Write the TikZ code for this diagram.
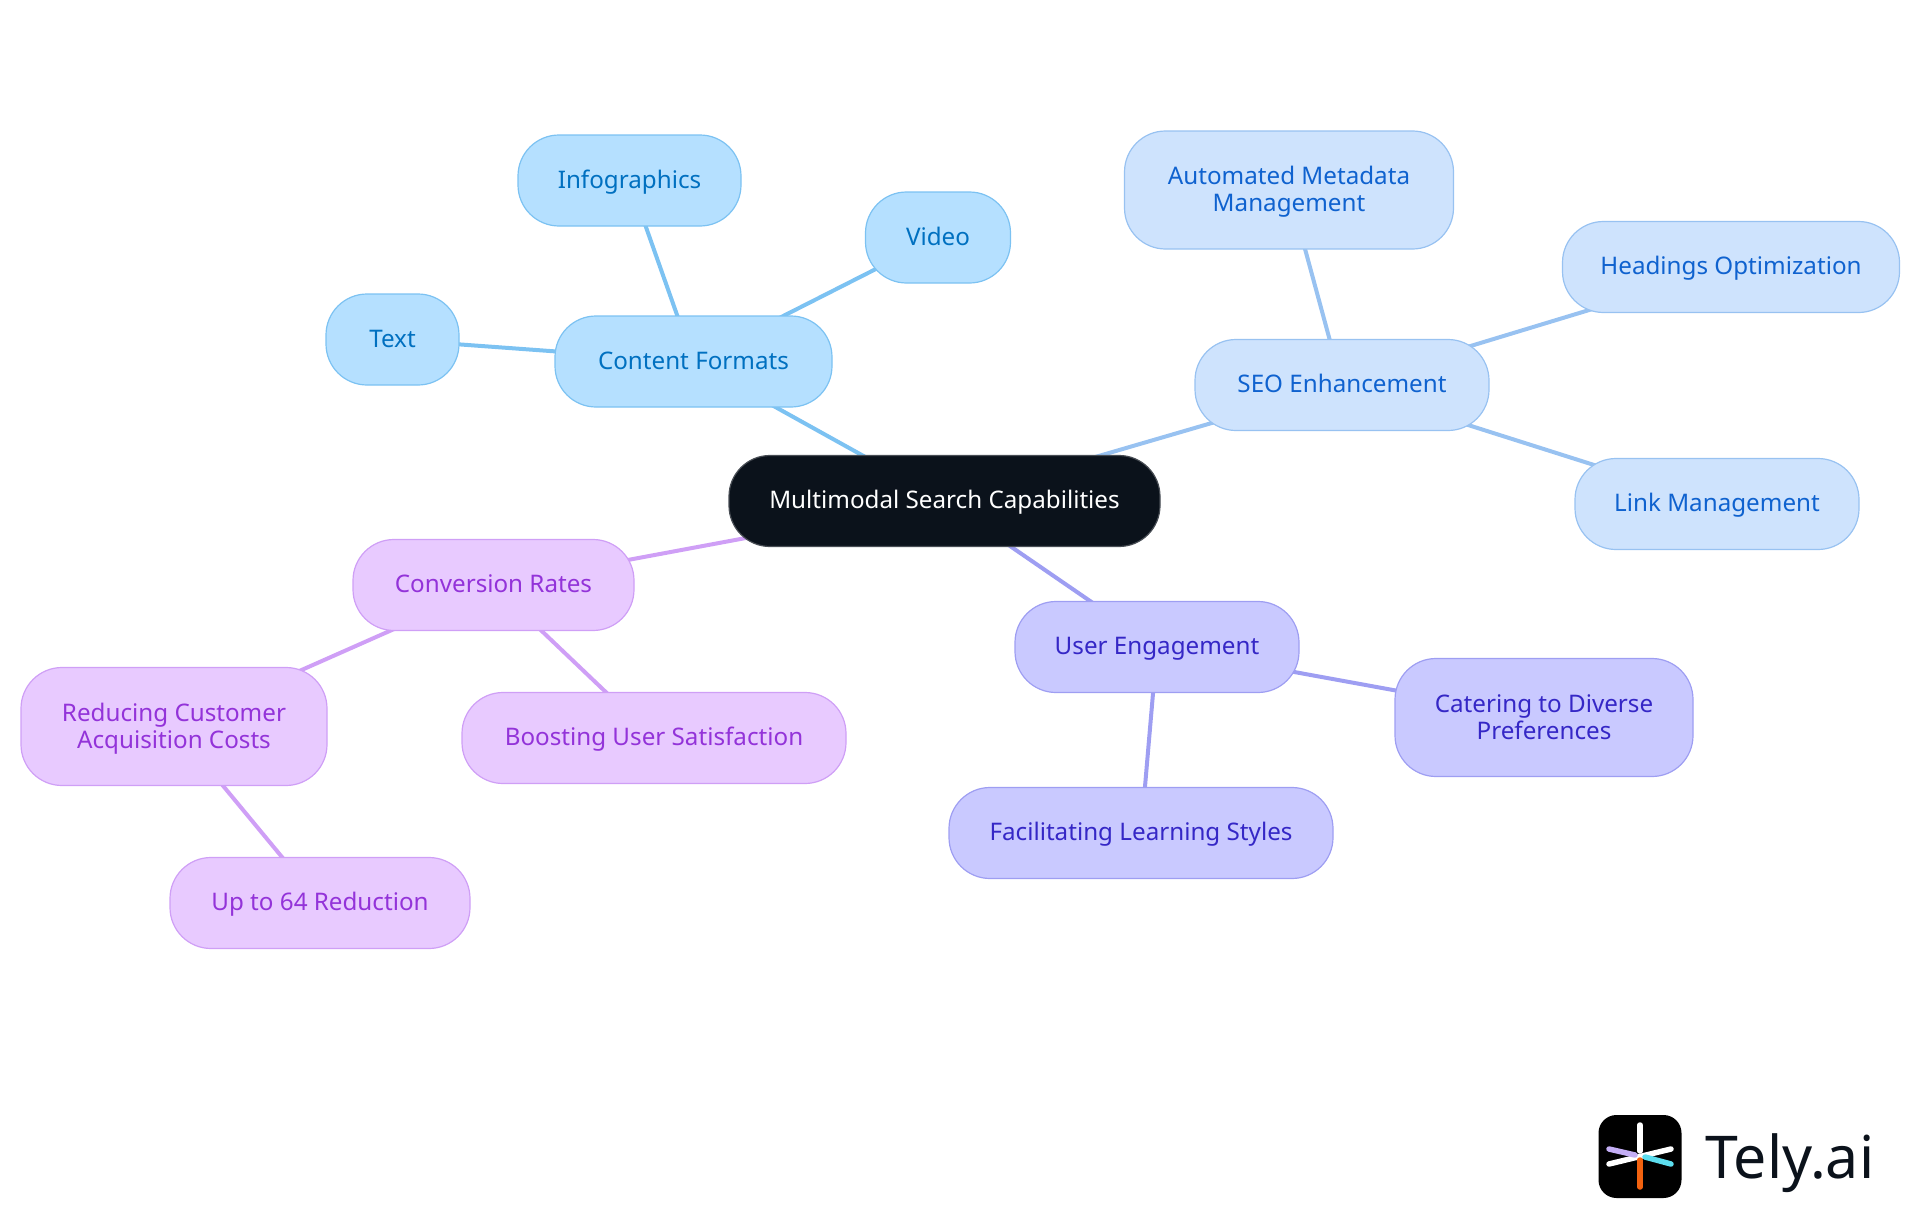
\documentclass[tikz,border=0pt]{standalone}
\usepackage{fontspec}
\setmainfont{Noto Sans}
\usetikzlibrary{backgrounds}
\definecolor{hubfill}{HTML}{0B121B}
\definecolor{fmtfill}{HTML}{B5E0FF}
\definecolor{fmtline}{HTML}{7CC2F2}
\definecolor{fmttext}{HTML}{0070C0}
\definecolor{seofill}{HTML}{CEE3FD}
\definecolor{seoline}{HTML}{98C2F1}
\definecolor{seotext}{HTML}{0F62CF}
\definecolor{usrfill}{HTML}{C9C9FF}
\definecolor{usrline}{HTML}{9E9EF2}
\definecolor{usrtext}{HTML}{3527C6}
\definecolor{cnvfill}{HTML}{E8CAFF}
\definecolor{cnvline}{HTML}{CF9FF6}
\definecolor{cnvtext}{HTML}{9333D9}
\definecolor{logopurple}{HTML}{C4AEF5}
\definecolor{logocyan}{HTML}{5CDDEE}
\definecolor{logoorange}{HTML}{F2620F}
\newcommand{\firstline}{\rule{0pt}{22pt}}
\newcommand{\lastline}{\rule[-5pt]{0pt}{5pt}}

\begin{document}
\begin{tikzpicture}[
    x=1pt, y=-1pt,
    pill/.style={draw, rectangle, rounded corners=41pt, line width=1.2pt, align=center, inner sep=0pt, font=\fontsize{24.2}{27}\selectfont},
    box/.style={pill, minimum height=91pt, text height=20pt, text depth=4.5pt},
    tallbox/.style={pill, minimum height=118pt},
    hub/.style={box, fill=hubfill, draw=hubfill!75!white, text=white},
    fmt/.style={fill=fmtfill, draw=fmtline, text=fmttext},
    seo/.style={fill=seofill, draw=seoline, text=seotext},
    usr/.style={fill=usrfill, draw=usrline, text=usrtext},
    cnv/.style={fill=cnvfill, draw=cnvline, text=cnvtext},
    arr/.style={line width=4pt},
    spoke/.style={line width=5.5pt, line cap=round}
]
    \useasboundingbox (0,0) rectangle (1920,1215);

    \node[hub, minimum width=431pt] (hub) at (944.5,501) {Multimodal Search Capabilities};

    \node[box, fmt, minimum width=277pt] (formats) at (693.5,361.5) {Content Formats};
    \node[box, fmt, minimum width=133pt] (text) at (392.5,339.5) {Text};
    \node[box, fmt, minimum width=223pt] (info) at (629.5,180.5) {Infographics};
    \node[box, fmt, minimum width=145pt] (video) at (938,237.5) {Video};

    \node[box, seo, minimum width=294pt] (seo) at (1342,385) {SEO Enhancement};
    \node[tallbox, seo, minimum width=329pt] (meta) at (1289,190) {\firstline Automated Metadata\\Management\lastline};
    \node[box, seo, minimum width=337pt] (heads) at (1731,267) {Headings Optimization};
    \node[box, seo, minimum width=284pt] (links) at (1717,504) {Link Management};

    \node[box, usr, minimum width=284pt] (engage) at (1157,647) {User Engagement};
    \node[tallbox, usr, minimum width=298pt] (prefs) at (1544,717.5) {\firstline Catering to Diverse\\Preferences\lastline};
    \node[box, usr, minimum width=384pt] (learn) at (1141,833) {Facilitating Learning Styles};

    \node[box, cnv, minimum width=281pt] (conv) at (493.5,585) {Conversion Rates};
    \node[tallbox, cnv, minimum width=306pt] (costs) at (174,726.5) {\firstline Reducing Customer\\Acquisition Costs\lastline};
    \node[box, cnv, minimum width=384pt] (boost) at (654,738) {Boosting User Satisfaction};
    \node[box, cnv, minimum width=300pt] (cut) at (320,903) {Up to 64 Reduction};

    \begin{scope}[on background layer]
        \draw[arr, fmtline] (hub.center) -- (formats.center);
        \draw[arr, fmtline] (formats.center) -- (text.center);
        \draw[arr, fmtline] (formats.center) -- (info.center);
        \draw[arr, fmtline] (formats.center) -- (video.center);
        \draw[arr, seoline] (hub.center) -- (seo.center);
        \draw[arr, seoline] (seo.center) -- (meta.center);
        \draw[arr, seoline] (seo.center) -- (heads.center);
        \draw[arr, seoline] (seo.center) -- (links.center);
        \draw[arr, usrline] (hub.center) -- (engage.center);
        \draw[arr, usrline] (engage.center) -- (prefs.center);
        \draw[arr, usrline] (engage.center) -- (learn.center);
        \draw[arr, cnvline] (hub.center) -- (conv.center);
        \draw[arr, cnvline] (conv.center) -- (costs.center);
        \draw[arr, cnvline] (conv.center) -- (boost.center);
        \draw[arr, cnvline] (costs.center) -- (cut.center);
    \end{scope}

    % logo
    \node[fill=black, rounded corners=18pt, minimum size=83pt, inner sep=0pt] (logo) at (1640,1156.5) {};
    \draw[spoke, white] (1640,1125) -- (1640,1151);
    \draw[spoke, white] (1671,1149) -- (1609,1164);
    \draw[spoke, logopurple] (1609,1149) -- (1635,1155);
    \draw[spoke, logocyan] (1671,1164) -- (1645,1157);
    \draw[spoke, logoorange] (1640,1160) -- (1640,1187);
    \node[anchor=base west, inner sep=0pt, text=hubfill, font=\fontsize{59}{60}\selectfont] (brand) at (1705,1178) {Tely.ai};
\end{tikzpicture}
\end{document}
